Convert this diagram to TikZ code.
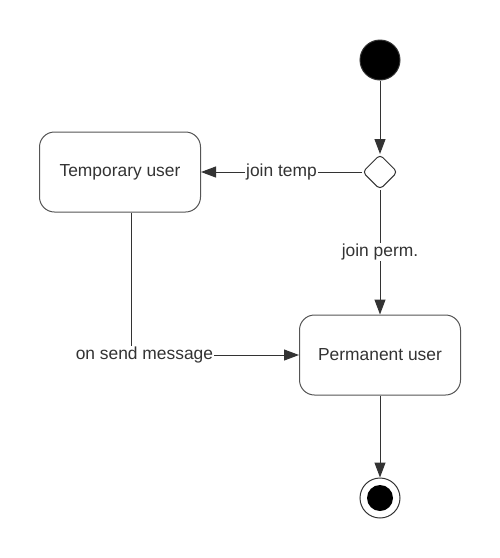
\documentclass[tikz,border=0pt]{standalone}
\usepackage{fontspec}
\setmainfont{Liberation Sans}
\usetikzlibrary{arrows.meta,shapes.geometric}
\definecolor{ink}{HTML}{333333}
\definecolor{edge}{HTML}{555555}
\tikzset{
  statebox/.style={draw=edge, line width=1pt, rounded corners=15pt, minimum width=161pt, minimum height=80pt, inner sep=0pt, text=ink, font=\fontsize{17.4}{20}\selectfont},
  arr/.style={draw=ink, line width=1pt, -{Triangle[length=15pt,width=11pt]}},
  lbl/.style={fill=white, inner sep=1pt, text=ink, font=\fontsize{17.4}{20}\selectfont},
}
\begin{document}
\begin{tikzpicture}[x=1pt,y=-1pt]
\useasboundingbox (0,0) rectangle (500,558);
\node[circle, fill=black, draw=ink, line width=1pt, minimum size=40pt, inner sep=0pt] (start) at (380,60) {};
\node[diamond, draw=ink, line width=1pt, rounded corners=4pt, minimum width=35pt, minimum height=35pt, inner sep=0pt, fill=white] (dec) at (380,172) {};
\node[statebox] (temp) at (120,172) {Temporary user};
\node[statebox] (perm) at (380,355) {Permanent user};
\node[circle, draw=ink, line width=1pt, minimum size=40pt, inner sep=0pt] (end) at (380,498) {};
\node[circle, fill=black, minimum size=26pt, inner sep=0pt] (endin) at (end) {};
\coordinate (tb) at ([xshift=11pt]temp.south);
\draw[arr] (start) -- (dec);
\draw[arr] (dec) -- node[lbl]{join temp} (temp);
\draw[arr] (dec) -- node[lbl]{join perm.} (perm);
\draw[arr] (tb) |- node[lbl, pos=0.54]{on send message} (perm.west);
\draw[arr] (perm) -- (end);
\end{tikzpicture}
\end{document}
